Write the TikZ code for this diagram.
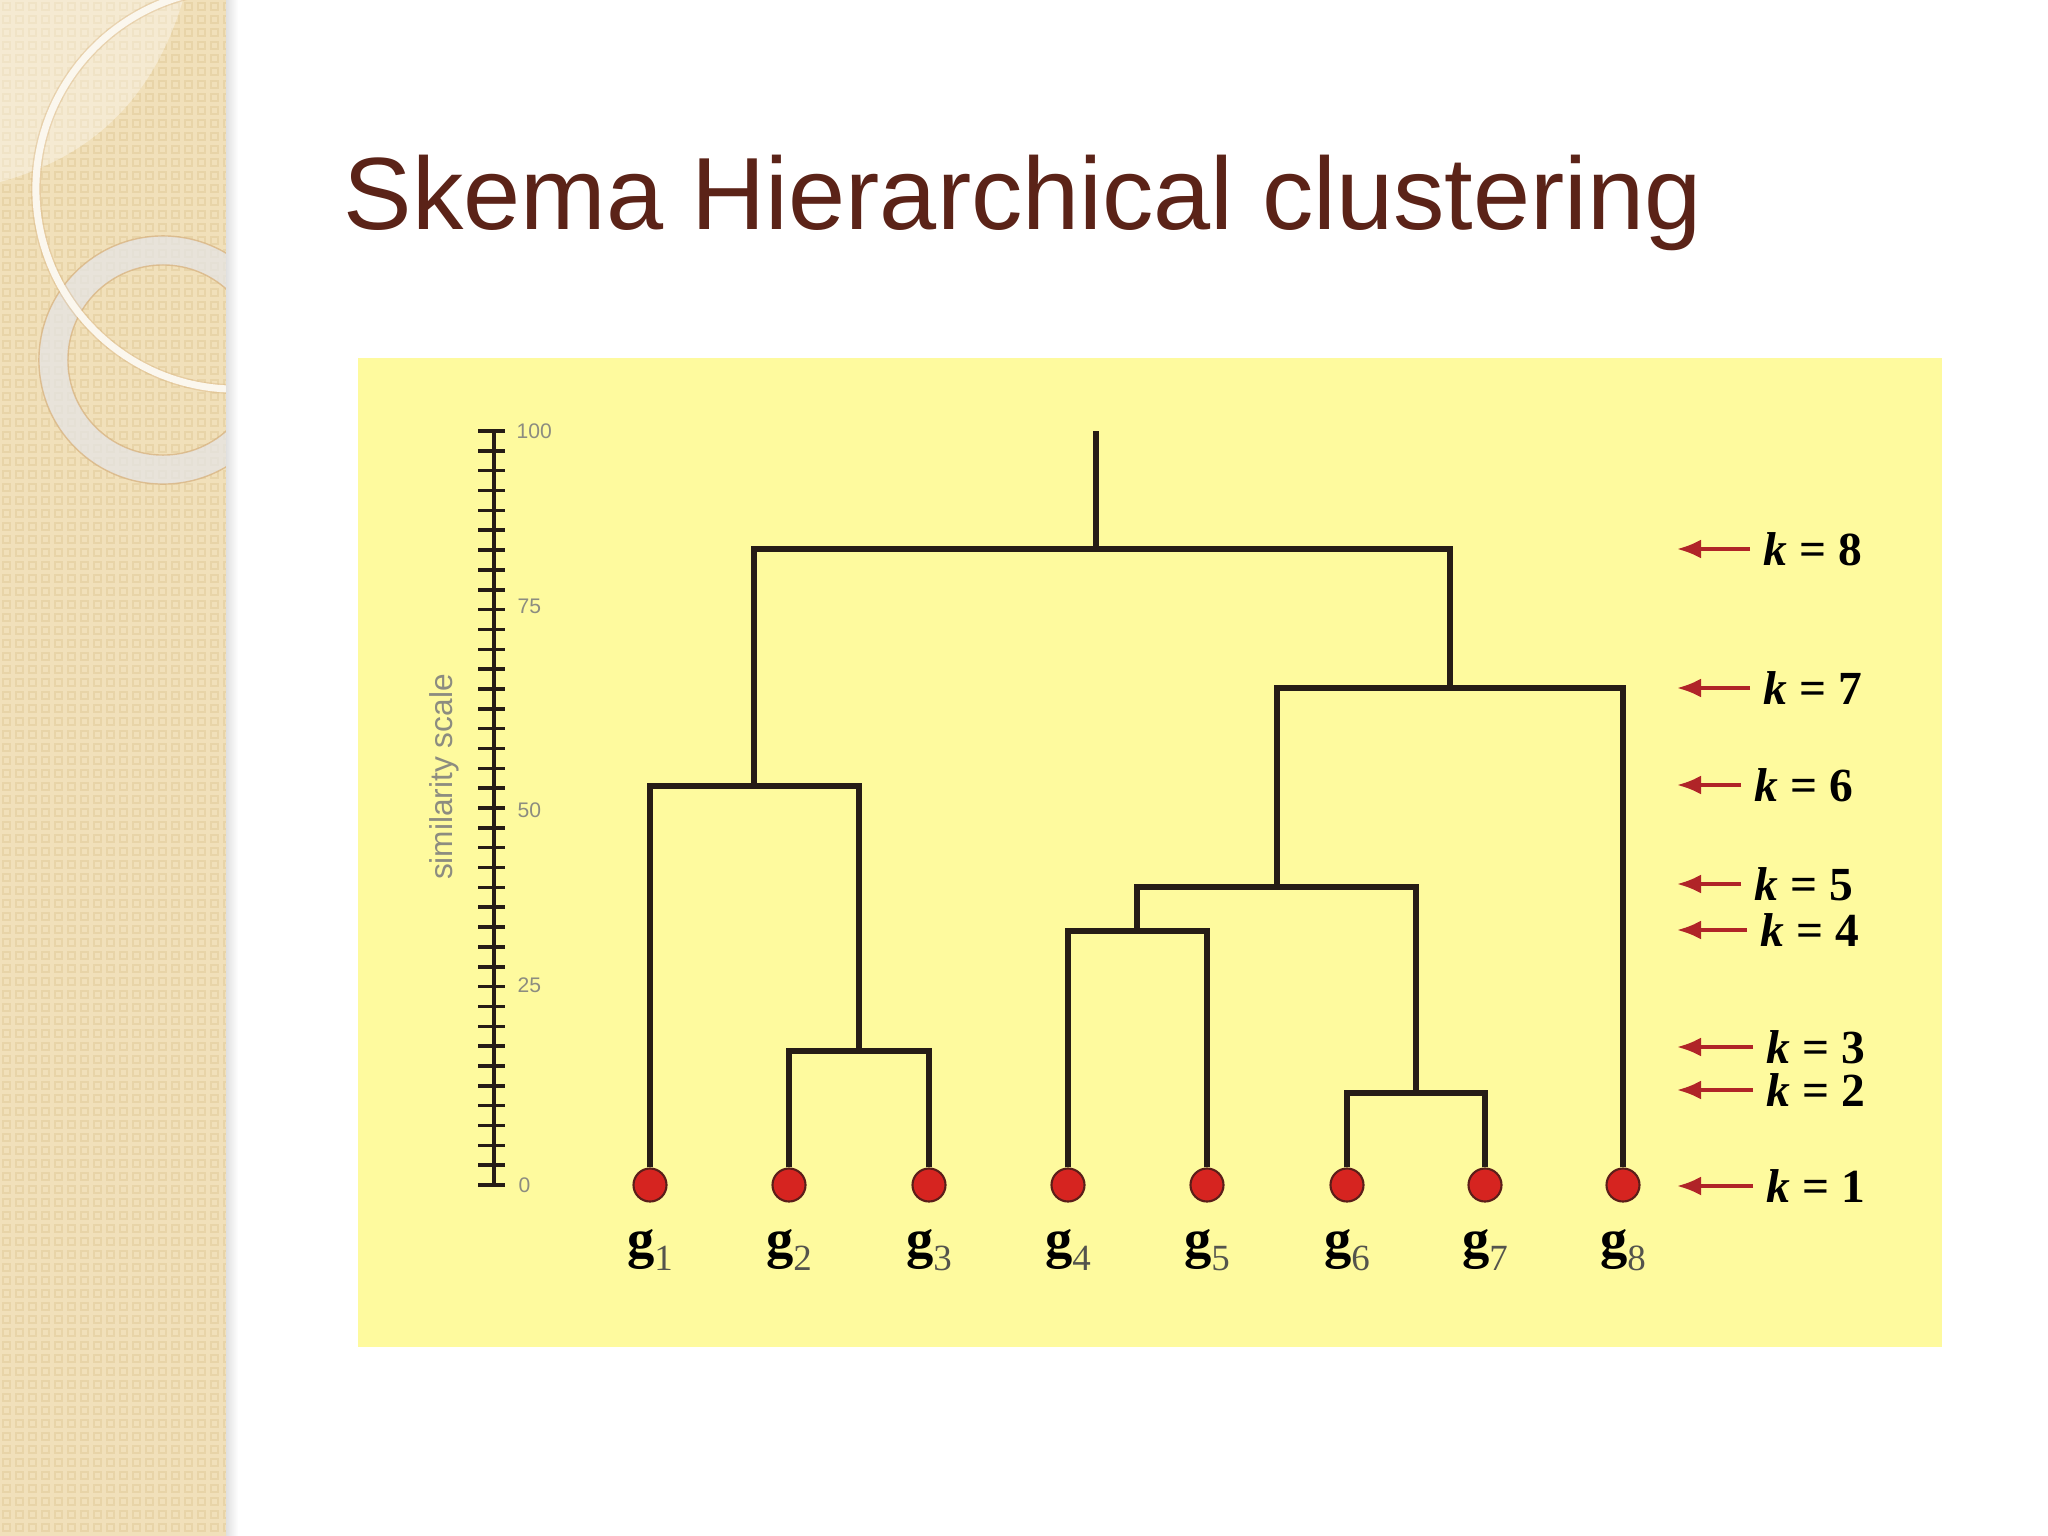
\documentclass[tikz,border=0pt]{standalone}
\usepackage{fontspec}
\setmainfont{Liberation Serif}
\newfontfamily\titlefont{Liberation Sans}
\usetikzlibrary{arrows.meta}
\definecolor{titlebrown}{HTML}{5B2318}
\definecolor{panelyellow}{HTML}{FEFA9E}
\definecolor{stripbeige}{HTML}{F1E0BA}
\definecolor{stripdot}{HTML}{E8D4A8}
\definecolor{dotred}{HTML}{D62420}
\definecolor{arrowred}{HTML}{B02428}
\definecolor{treeline}{HTML}{261C16}
\definecolor{scalegray}{HTML}{8C8C80}

\begin{document}
\begin{tikzpicture}[x=0.01cm,y=-0.01cm]

\tikzset{
  tree/.style={draw=treeline, line width=1.5pt},
  leaf/.style={circle, fill=dotred, draw=treeline!70!dotred, line width=0.6pt,
    minimum size=0.33cm, inner sep=0pt},
  leaflabel/.style={font=\fontsize{15.5}{16}\selectfont\bfseries, inner sep=0pt},
  klabel/.style={font=\fontsize{13.5}{14}\selectfont\bfseries, anchor=west, inner sep=0pt},
  karrow/.style={draw=arrowred, line width=1pt, -{Latex[length=0.24cm,width=0.19cm]},
    shorten <=0.13cm},
  scaletick/.style={draw=treeline, line width=1pt},
  scalenum/.style={font=\titlefont\fontsize{6}{6}\selectfont, text=scalegray, anchor=west, inner sep=0pt},
}
\useasboundingbox (0,0) rectangle (2048,1536);
\fill[white] (0,0) rectangle (2048,1536);

% left strip with rings
\begin{scope}
\clip (0,0) rectangle (226,1536);
\fill[stripbeige] (0,0) rectangle (226,1536);
\draw[stripdot, line width=0.4pt] \foreach \i in {0,...,17}{\foreach \j in {0,...,118}{(\i*13+3,\j*13+3) rectangle ++(7,7)}};
\fill[white, opacity=0.35] (0,0) -- (183,0) .. controls (150,110) and (80,160) .. (0,182) -- cycle;
\fill[even odd rule, fill=white!80!gray, opacity=0.75, draw=stripdot!60!brown, line width=0.4pt]
  (163,360) circle (1.24cm) (163,360) circle (0.95cm);
\draw[stripdot!60!brown, opacity=0.4, line width=2.8pt] (236,189) circle (2cm);
\draw[white!75!stripbeige, line width=2pt] (236,189) circle (2cm);
\end{scope}
\shade[left color=black!12, right color=white] (226,0) rectangle (238,1536);

\node[anchor=base west, inner sep=0pt, font=\titlefont\fontsize{29.2}{35}\selectfont,
  text=titlebrown] (title) at (343,229) {Skema Hierarchical clustering};

\fill[panelyellow] (358,358) rectangle (1942,1347);

% similarity scale
\draw[treeline, line width=1.4pt] (494,431) -- (494,1187);
\foreach \i in {0,...,38}
  \draw[scaletick] (478,{431+\i*19.842}) -- (505,{431+\i*19.842});
\node[scalenum] (s100) at (516,431) {100};
\node[scalenum] (s75) at (517,606) {75};
\node[scalenum] (s50) at (517,810) {50};
\node[scalenum] (s25) at (517,985) {25};
\node[scalenum] (s0) at (518,1185) {0};
\node[rotate=90, font=\titlefont\fontsize{9}{9}\selectfont, text=scalegray] (scalename)
  at (444,777) {similarity scale};

% leaves
\foreach \x [count=\i] in {650,789,929,1068,1207,1347,1485,1623}{
  \node[leaf] (g\i) at (\x,1185) {};
  \node[leaflabel] (lab\i) at (\x,1250)
    {g\raisebox{-0.24em}{\mdseries\fontsize{10.5}{11}\selectfont\color{scalegray!60!black}\i}};
}

% merges
\coordinate (m23) at (859,1051);
\coordinate (m67) at (1416,1093);
\coordinate (m45) at (1137,931);
\coordinate (m4567) at (1277,887);
\coordinate (m123) at (754,786);
\coordinate (m45678) at (1450,688);
\coordinate (mall) at (1096,549);
\coordinate (root) at (1096,431);

\draw[tree] (g2.north) |- (m23) -| (g3.north);
\draw[tree] (g6.north) |- (m67) -| (g7.north);
\draw[tree] (g4.north) |- (m45) -| (g5.north);
\draw[tree] (m45) |- (m4567) -| (m67);
\draw[tree] (g1.north) |- (m123) -| (m23);
\draw[tree] (m4567) |- (m45678) -| (g8.north);
\draw[tree] (m123) |- (mall) -| (m45678);
\draw[tree] (mall) -- (root);

% number of clusters
\foreach \k/\y/\x in {8/549/1763, 7/688/1763, 6/785/1754, 5/884/1754,
                      4/930/1760, 3/1047/1766, 2/1090/1766, 1/1186/1766}{
  \node[klabel] (k\k) at (\x,\y) {\textit{k} = \k};
  \coordinate (t\k) at (1677,\y);
  \draw[karrow] (k\k.west) -- (t\k);
}

\end{tikzpicture}
\end{document}
